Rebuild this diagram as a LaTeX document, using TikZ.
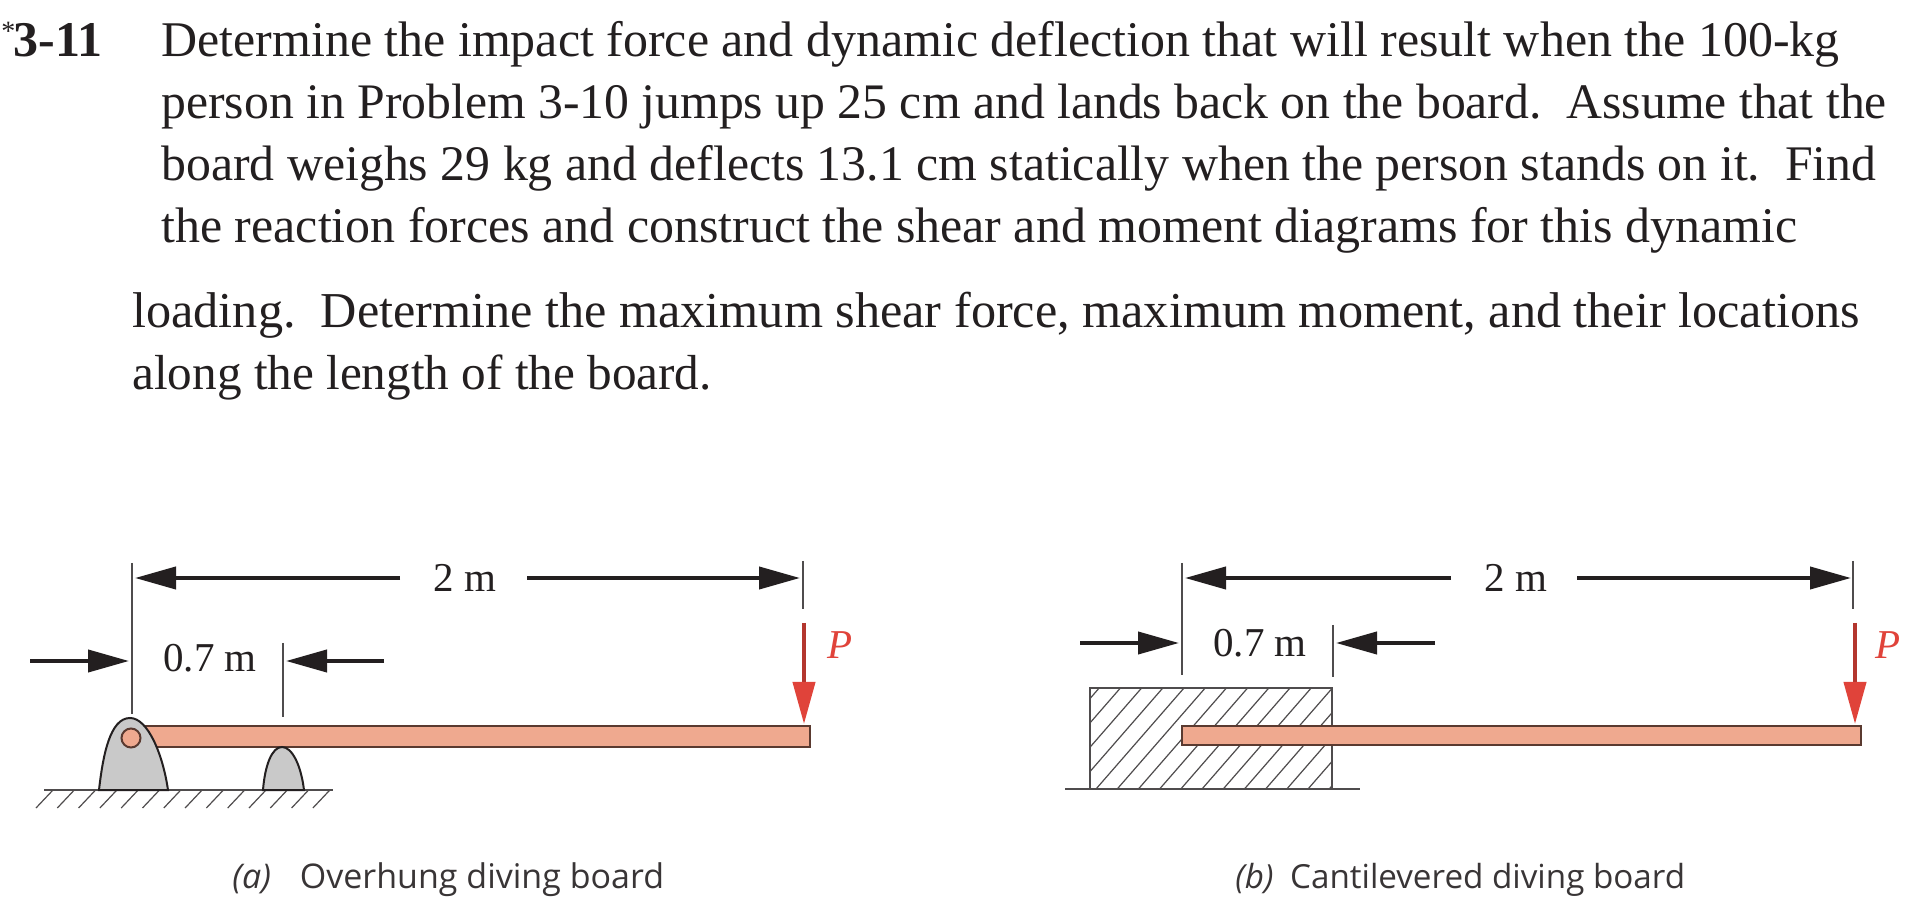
\documentclass[tikz,border=0pt]{standalone}
\usepackage{fontspec}
\setmainfont{Liberation Serif}
\newfontfamily\capfont{Open Sans}
\usetikzlibrary{arrows.meta}
\definecolor{ink}{HTML}{231F20}
\definecolor{boardfill}{HTML}{EFA98F}
\definecolor{boardedge}{HTML}{5A3A30}
\definecolor{loadred}{HTML}{E0433A}
\definecolor{supportgray}{HTML}{C9C9C9}
\tikzset{
  x=0.5pt,y=-0.5pt,
  bodytext/.style={anchor=base west,inner sep=0,font=\fontsize{25pt}{28pt}\selectfont,text=ink},
  dimtext/.style={inner sep=0,font=\fontsize{20.5pt}{24pt}\selectfont,text=ink},
  captext/.style={anchor=base west,inner sep=0,font=\capfont\fontsize{17pt}{20pt}\selectfont,text=ink!90},
  dimarrow/.style={draw=ink,line width=2pt,-{Triangle[length=20.5pt,width=11pt,fill=ink]}},
  dimline/.style={draw=ink!80,line width=0.8pt},
  loadarrow/.style={draw=loadred!80!black,line width=2pt,-{Triangle[length=21pt,width=11pt,color=loadred,fill=loadred]}},
  boardshape/.style={fill=boardfill,draw=boardedge,line width=1pt},
  supportshape/.style={fill=supportgray,draw=ink,line width=1pt},
  hatchline/.style={draw=ink!80,line width=0.6pt},
}
\begin{document}
\begin{tikzpicture}
\useasboundingbox (0,0) rectangle (1912,908);
\fill[white] (0,0) rectangle (1912,908);
% problem text
\node[anchor=base west,inner sep=0,font=\fontsize{14pt}{15pt}\selectfont,text=ink] (star) at (1,41) {*};
\node[bodytext,font=\bfseries\fontsize{25pt}{28pt}\selectfont] (num) at (13,57) {3-11};
\node[bodytext,font=\fontsize{24.97pt}{28pt}\selectfont] (l1) at (161,57) {Determine the impact force and dynamic deflection that will result when the 100-kg};
\node[bodytext,font=\fontsize{24.85pt}{28pt}\selectfont] (l2) at (161,119) {person in Problem 3-10 jumps up 25 cm and lands back on the board.\ \ Assume that the};
\node[bodytext,font=\fontsize{24.9pt}{28pt}\selectfont] (l3) at (161,181) {board weighs 29 kg and deflects 13.1 cm statically when the person stands on it.\ \ Find};
\node[bodytext,font=\fontsize{24.96pt}{28pt}\selectfont] (l4) at (161,243) {the reaction forces and construct the shear and moment diagrams for this dynamic};
\node[bodytext,font=\fontsize{25.12pt}{28pt}\selectfont] (l5) at (132,328) {loading.\ \ Determine the maximum shear force, maximum moment, and their locations};
\node[bodytext,font=\fontsize{24.6pt}{28pt}\selectfont] (l6) at (132,390) {along the length of the board.};

% (a) overhung
\draw[hatchline,line width=0.9pt] (44,790) -- (333,790);
\foreach \i in {0,...,13} \draw[hatchline] ({53+21.3*\i},790) -- ({36+21.3*\i},808);
\draw[boardshape] (135,726) rectangle (810,747);
\draw[supportshape] (99,790) .. controls (103,755) and (110,718) .. (130,718) .. controls (148,718) and (163,755) .. (168,790) -- cycle;
\draw[supportshape] (263,790) .. controls (265,765) and (272,747) .. (282,747) .. controls (292,747) and (301,765) .. (304,790) -- cycle;
\draw[boardshape] (131,738) circle[radius=9.5];
\coordinate (aL) at (132,563); \coordinate (aLb) at (132,714);
\coordinate (aM) at (283,643); \coordinate (aMb) at (283,717);
\coordinate (aR) at (803,561); \coordinate (aRb) at (803,609);
\draw[dimline,line width=1.1pt] (aL) -- (aLb);
\draw[dimline] (aM) -- (aMb);
\draw[dimline] (aR) -- (aRb);
\node[dimtext] (a2m) at (465,578) {2 m};
\coordinate (a2s) at (400,578); \coordinate (a2t) at (135,578);
\coordinate (a2u) at (527,578); \coordinate (a2v) at (800,578);
\draw[dimarrow] (a2s) -- (a2t);
\draw[dimarrow] (a2u) -- (a2v);
\node[dimtext] (a07) at (210,658) {0.7 m};
\coordinate (a7s) at (30,661); \coordinate (a7t) at (129,661);
\coordinate (a7u) at (384,661); \coordinate (a7v) at (286,661);
\draw[dimarrow] (a7s) -- (a7t);
\draw[dimarrow] (a7u) -- (a7v);
\coordinate (aPs) at (804,623); \coordinate (aPt) at (804,724);
\draw[loadarrow] (aPs) -- (aPt);
\node[dimtext,text=loadred,font=\itshape\fontsize{20.5pt}{24pt}\selectfont] (aP) at (840,645) {P};
\node[captext] (capa) at (232,888) {\textit{(a)}\hspace{0.85em}Overhung diving board};

% (b) cantilever
\begin{scope}
\clip (1090,688) rectangle (1332,789);
\foreach \i in {-6,...,12} \draw[hatchline] ({1096+21.2*\i},789) -- ({1096+21.2*\i+88},688);
\end{scope}
\draw[hatchline,line width=1pt] (1090,789) -- (1090,688) -- (1332,688) -- (1332,789);
\draw[hatchline,line width=0.9pt] (1065,789) -- (1360,789);
\draw[boardshape] (1182,726) rectangle (1861,745);
\coordinate (bL) at (1182,563); \coordinate (bLb) at (1182,675);
\coordinate (bM) at (1333,625); \coordinate (bMb) at (1333,677);
\coordinate (bR) at (1853,561); \coordinate (bRb) at (1853,609);
\draw[dimline] (bL) -- (bLb);
\draw[dimline,line width=1.1pt] (bM) -- (bMb);
\draw[dimline] (bR) -- (bRb);
\node[dimtext] (b2m) at (1516,578) {2 m};
\coordinate (b2s) at (1451,578); \coordinate (b2t) at (1185,578);
\coordinate (b2u) at (1577,578); \coordinate (b2v) at (1851,578);
\draw[dimarrow] (b2s) -- (b2t);
\draw[dimarrow] (b2u) -- (b2v);
\node[dimtext] (b07) at (1260,643) {0.7 m};
\coordinate (b7s) at (1080,643); \coordinate (b7t) at (1179,643);
\coordinate (b7u) at (1435,643); \coordinate (b7v) at (1336,643);
\draw[dimarrow] (b7s) -- (b7t);
\draw[dimarrow] (b7u) -- (b7v);
\coordinate (bPs) at (1855,623); \coordinate (bPt) at (1855,724);
\draw[loadarrow] (bPs) -- (bPt);
\node[dimtext,text=loadred,font=\itshape\fontsize{20.5pt}{24pt}\selectfont] (bP) at (1888,645) {P};
\node[captext,font=\capfont\fontsize{16.6pt}{20pt}\selectfont] (capb) at (1235,888) {\textit{(b)}\hspace{0.5em}Cantilevered diving board};
\end{tikzpicture}
\end{document}
